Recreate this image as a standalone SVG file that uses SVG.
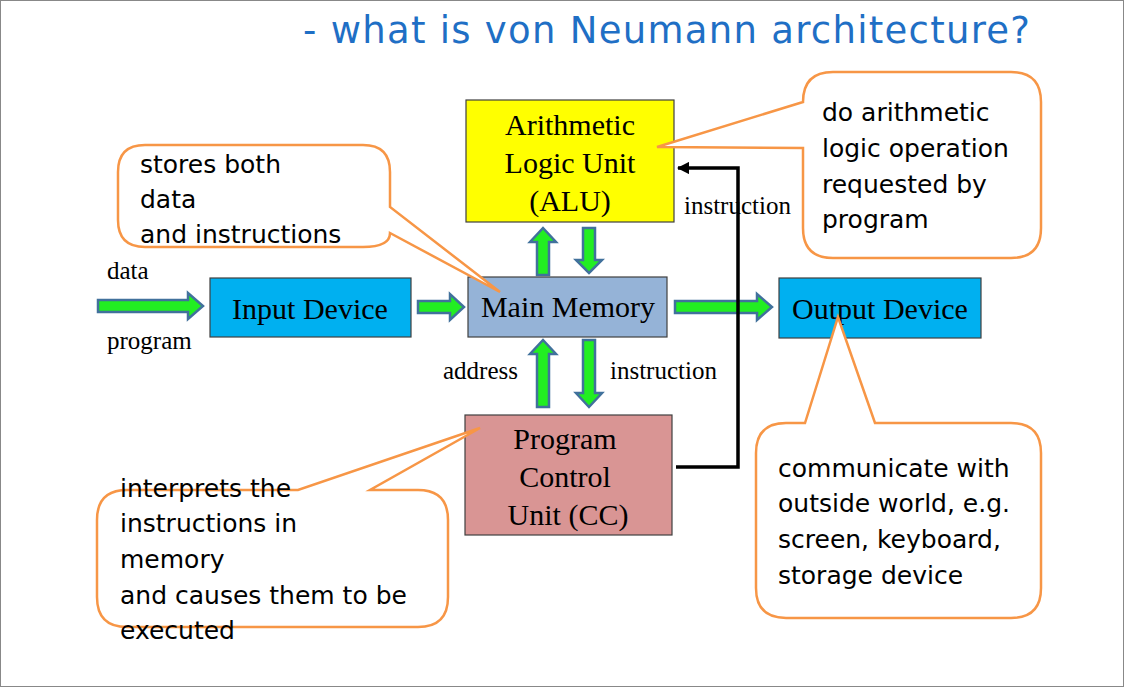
<svg xmlns="http://www.w3.org/2000/svg" width="1124" height="687" viewBox="0 0 1124 687">
<defs>
<style>
.box{stroke:#404040;stroke-width:1.2}
.bt{font-family:"Liberation Serif",serif;font-size:30px;fill:#000;text-anchor:middle}
.lbl{font-family:"Liberation Serif",serif;font-size:25px;fill:#000}
.ga{fill:#22EE22;stroke:#41719C;stroke-width:2.5;stroke-linejoin:miter}
.co{fill:#fff;stroke:#F79646;stroke-width:2.5}
.ct{font-family:"DejaVu Sans",sans-serif;font-size:25px;fill:#000}
</style>
<marker id="ah" viewBox="0 0 10 10" refX="9" refY="5" markerWidth="3.5" markerHeight="3.5" orient="auto"><path d="M0,0 L10,5 L0,10 z" fill="#000"/></marker>
</defs>
<rect x="0" y="0" width="1124" height="687" fill="#fff"/>
<rect x="0.5" y="0.5" width="1123" height="686" fill="none" stroke="#888"/>
<text x="303" y="43" font-family="DejaVu Sans,sans-serif" font-size="37" fill="#1F6FC5" textLength="727">- what is von Neumann architecture?</text>

<g id="connectors">
<path class="ga" d="M98,300 H188 V293 L203,306 L188,319 V312 H98 Z"/>
<path class="ga" d="M418,301 H450 V294 L464,307 L450,320 V313 H418 Z"/>
<path class="ga" d="M675,301 H757 V294 L772,307 L757,320 V313 H675 Z"/>
<path class="ga" d="M537,275 V242 H530 L543,228 L556,242 H549 V275 Z"/>
<path class="ga" d="M583,228 V260 H576 L589,273 L602,260 H595 V228 Z"/>
<path class="ga" d="M537,407 V354 H530 L543,340 L556,354 H549 V407 Z"/>
<path class="ga" d="M583,340 V393 H576 L589,407 L602,393 H595 V340 Z"/>
<path d="M676,467 H738 V168 H678" fill="none" stroke="#000" stroke-width="3.5" marker-end="url(#ah)"/>
<text class="lbl" x="107" y="279">data</text>
<text class="lbl" x="107" y="349">program</text>
<text class="lbl" x="443" y="379">address</text>
<text class="lbl" x="610" y="379">instruction</text>
<text class="lbl" x="684" y="214">instruction</text>
</g>

<g id="alu"><rect class="box" x="466" y="100" width="208" height="122" fill="#FFFF00"/>
<text class="bt" x="570" y="135">Arithmetic</text><text class="bt" x="570" y="173">Logic Unit</text><text class="bt" x="570" y="211">(ALU)</text></g>
<g id="input"><rect class="box" x="210" y="278" width="201" height="59" fill="#00B0F0"/><text class="bt" x="310" y="319">Input Device</text></g>
<g id="memory"><rect class="box" x="468" y="277" width="199" height="60" fill="#95B3D7"/><text class="bt" x="568" y="317">Main Memory</text></g>
<g id="output"><rect class="box" x="779" y="278" width="202" height="60" fill="#00B0F0"/><text class="bt" x="880" y="319">Output Device</text></g>
<g id="cc"><rect class="box" x="465" y="415" width="207" height="120" fill="#D99594"/>
<text class="bt" x="565" y="449">Program</text><text class="bt" x="565" y="487">Control</text><text class="bt" x="568" y="525">Unit (CC)</text></g>

<g id="callout-memory">
<path class="co" d="M145,145 H363 Q390,145 390,172 V207 L500,292 L390,233 Q390,247 363,247 H145 Q118,247 118,220 V172 Q118,145 145,145 Z"/>
<text class="ct" x="140" y="173">stores both</text><text class="ct" x="140" y="208">data</text><text class="ct" x="140" y="243">and instructions</text>
</g>
<g id="callout-alu">
<path class="co" d="M833,72 H1011 Q1041,72 1041,102 V228 Q1041,258 1011,258 H833 Q803,258 803,228 V148 L657,147 L803,102 Q803,72 833,72 Z"/>
<text class="ct" x="822" y="121">do arithmetic</text><text class="ct" x="822" y="157">logic operation</text><text class="ct" x="822" y="193">requested by</text><text class="ct" x="822" y="228">program</text>
</g>
<g id="callout-output">
<path class="co" d="M786,423 H805 L838,317 L875,423 H1011 Q1041,423 1041,453 V588 Q1041,618 1011,618 H786 Q756,618 756,588 V453 Q756,423 786,423 Z"/>
<text class="ct" x="778" y="477">communicate with</text><text class="ct" x="778" y="512">outside world, e.g.</text><text class="ct" x="778" y="548">screen, keyboard,</text><text class="ct" x="778" y="584">storage device</text>
</g>
<g id="callout-cc">
<path class="co" d="M127,490 H298 L480,428 L370,490 H418 Q448,490 448,520 V597 Q448,627 418,627 H127 Q97,627 97,597 V520 Q97,490 127,490 Z"/>
<text class="ct" x="120" y="497">interprets the</text><text class="ct" x="120" y="532">instructions in</text><text class="ct" x="120" y="568">memory</text><text class="ct" x="120" y="604">and causes them to be</text><text class="ct" x="120" y="639">executed</text>
</g>
</svg>
